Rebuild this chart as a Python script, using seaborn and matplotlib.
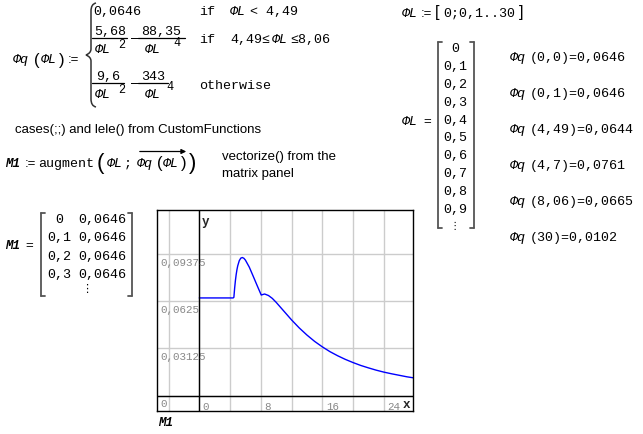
import numpy as np
import pandas as pd
import seaborn as sns
import matplotlib.pyplot as plt
from matplotlib.lines import Line2D
from matplotlib.patches import PathPatch, FancyArrowPatch
from matplotlib.path import Path

# valores (curva Φq(ΦL))
phi_L = [0, 1, 2, 3, 4, 4.4, 4.5, 4.6, 4.7, 4.8, 4.9, 5.0, 5.2, 5.4, 5.6, 5.8,
         6.0, 6.5, 7.0, 7.5, 8.0, 8.06, 8.1, 8.5, 9.0, 9.5, 10, 11, 12, 13, 14,
         15, 16, 17, 18, 19, 20, 21, 22, 23, 24, 25, 26, 27, 28, 29, 30]
phi_q = [0.0646, 0.0646, 0.0646, 0.0646, 0.0646, 0.0646, 0.0650, 0.0711, 0.0761,
         0.0801, 0.0833, 0.0858, 0.0892, 0.0909, 0.0913, 0.0908, 0.0896, 0.0850,
         0.0791, 0.0731, 0.0672, 0.0665, 0.0666, 0.0672, 0.0662, 0.0643, 0.0617,
         0.0559, 0.0501, 0.0448, 0.0401, 0.0359, 0.0323, 0.0291, 0.0264, 0.0240,
         0.0219, 0.0200, 0.0184, 0.0169, 0.0156, 0.0145, 0.0135, 0.0125, 0.0117,
         0.0109, 0.0102]

# textos mostrados na folha
vetor_L = ["0", "0,1", "0,2", "0,3", "0,4", "0,5", "0,6", "0,7", "0,8", "0,9"]
m1_col1 = ["0", "0,1", "0,2", "0,3"]
m1_col2 = ["0,0646", "0,0646", "0,0646", "0,0646"]
eval_x = ["0,0", "0,1", "4,49", "4,7", "8,06", "30"]
eval_y = ["0,0646", "0,0646", "0,0644", "0,0761", "0,0665", "0,0102"]
x_ticks = [0, 8, 16, 24]
x_tick_labels = ["0", "8", "16", "24"]
y_ticks = [0.03125, 0.0625, 0.09375]
y_tick_labels = ["0,03125", "0,0625", "0,09375"]

sns.set_theme(style="white")
plt.rcParams['font.family'] = ['Liberation Mono', 'DejaVu Sans Mono']

W, H = 643, 435
fig = plt.figure(figsize=(W / 100, H / 100), dpi=100)
fig.patch.set_facecolor('white')

MONO = 9.6
SANS = 'Liberation Sans'


def tx(x, y, s, **kw):
    kw.setdefault('va', 'center')
    kw.setdefault('ha', 'left')
    kw.setdefault('fontsize', MONO)
    kw.setdefault('color', 'black')
    fig.text(x / W, 1 - y / H, s, **kw)


def atrib(x, y, s=":="):
    # sinal de atribuição mais estreito
    tx(x, y, s, family=SANS, fontsize=9.5)


def ln(x1, y1, x2, y2, **kw):
    kw.setdefault('color', 'black')
    kw.setdefault('lw', 0.9)
    fig.add_artist(Line2D([x1 / W, x2 / W], [1 - y1 / H, 1 - y2 / H],
                          transform=fig.transFigure, **kw))


def colchetes(x1, x2, y1, y2):
    c = '#555555'
    ln(x1 + 4, y1, x1, y1, color=c, lw=1.3)
    ln(x1, y1, x1, y2, color=c, lw=1.3)
    ln(x1, y2, x1 + 4, y2, color=c, lw=1.3)
    ln(x2 - 4, y1, x2, y1, color=c, lw=1.3)
    ln(x2, y1, x2, y2, color=c, lw=1.3)
    ln(x2, y2, x2 - 4, y2, color=c, lw=1.3)


# definição de Φq com cases
tx(13, 60, "Φq", style='italic')
tx(34, 60, "(", fontsize=12, family=SANS)
tx(41, 60, "ΦL", style='italic')
tx(59, 60, ")", fontsize=12, family=SANS)
atrib(68, 60)

pts = [(96, 4), (91, 5), (91, 12), (91, 50), (91, 54), (86, 56),
       (91, 58), (91, 62), (91, 100), (91, 107), (96, 108)]
codes = [Path.MOVETO, Path.CURVE3, Path.CURVE3, Path.LINETO, Path.CURVE3, Path.CURVE3,
         Path.CURVE3, Path.CURVE3, Path.LINETO, Path.CURVE3, Path.CURVE3]
verts = [(x / W, 1 - y / H) for x, y in pts]
fig.add_artist(PathPatch(Path(verts, codes), transform=fig.transFigure,
                         fill=False, lw=1.1, edgecolor='#333333'))

tx(93, 12, "0,0646")
tx(199, 12, "if")
tx(230, 12, "ΦL", style='italic')
tx(250, 12, "< 4,49")

# linha 2
tx(110, 32, "5,68", ha='center')
ln(92, 38.5, 127, 38.5)
tx(95, 50, "ΦL", style='italic')
tx(118, 45, "2", fontsize=8.5)
tx(131, 38.5, "–", family=SANS, fontsize=10)
tx(161, 32, "88,35", ha='center')
ln(138, 38.5, 185, 38.5)
tx(145, 50, "ΦL", style='italic')
tx(173, 43, "4", fontsize=8.5)
tx(199, 40, "if")
tx(230, 40, "4,49≤", family=['Liberation Mono', 'DejaVu Sans Mono'])
tx(272, 40, "ΦL", style='italic')
tx(290, 40, "≤8,06", family=['Liberation Mono', 'DejaVu Sans Mono'])

# linha 3
tx(108, 77, "9,6", ha='center')
ln(92, 83.5, 124, 83.5)
tx(95, 95.5, "ΦL", style='italic')
tx(118, 90, "2", fontsize=8.5)
tx(131, 83.5, "–", family=SANS, fontsize=10)
tx(153, 77, "343", ha='center')
ln(138, 83.5, 168, 83.5)
tx(145, 95.5, "ΦL", style='italic')
tx(166, 87, "4", fontsize=8.5)
tx(199, 86, "otherwise")

tx(15, 130, "cases(;;) and lele() from CustomFunctions", family=SANS, fontsize=9.5)

# M1 := augment(...)
tx(5, 164, "M1", style='italic', weight='bold', fontsize=9)
atrib(25, 164)
tx(38, 164, "augment")
tx(97, 163, "(", fontsize=16, family=SANS)
tx(107, 164, "ΦL", style='italic')
tx(124, 164, ";")
tx(137, 164, "Φq", style='italic')
tx(157, 164, "(", fontsize=12, family=SANS)
tx(163, 164, "ΦL", style='italic')
tx(181, 164, ")", fontsize=12, family=SANS)
tx(189, 163, ")", fontsize=16, family=SANS)
fig.add_artist(FancyArrowPatch((137 / W, 1 - 152.5 / H), (189 / W, 1 - 152.5 / H),
                               transform=fig.transFigure, arrowstyle='-|>',
                               mutation_scale=7, lw=0.9, color='black'))
tx(222, 157, "vectorize() from the", family=SANS, fontsize=9.5)
tx(222, 174, "matrix panel", family=SANS, fontsize=9.5)

# matriz M1
tx(5, 246.5, "M1", style='italic', weight='bold', fontsize=9)
atrib(25, 246.5, "=")
colchetes(40.5, 131.5, 214, 297)
for i in range(len(m1_col1)):
    y = 220 + 18.3 * i
    tx(59, y, m1_col1[i], ha='center')
    tx(78, y, m1_col2[i])
tx(87, 289, "⋮", ha='center', family='DejaVu Sans', fontsize=8)

# vetor ΦL
tx(402, 14, "ΦL", style='italic')
atrib(421, 14)
tx(435, 13, "[", family=SANS, fontsize=12)
tx(443, 14, "0;0,1..30")
tx(519, 13, "]", family=SANS, fontsize=12)

tx(402, 122, "ΦL", style='italic')
atrib(423, 122, "=")
colchetes(437.5, 473.5, 43, 229)
for i, v in enumerate(vetor_L):
    tx(455, 49 + 17.9 * i, v, ha='center')
tx(455, 226, "⋮", ha='center', family='DejaVu Sans', fontsize=7.5)

# avaliações
for i in range(len(eval_x)):
    y = 58.5 + 36 * i
    tx(510, y, "Φq", style='italic')
    tx(530, y, "(" + eval_x[i] + ")=" + eval_y[i])

# gráfico
ax = fig.add_axes([157 / W, 1 - 412 / H, 256 / W, 201 / H])
df = pd.DataFrame({'ΦL': phi_L, 'Φq': phi_q})
sns.lineplot(data=df, x='ΦL', y='Φq', ax=ax, color='#0000ff', lw=1,
             estimator=None, sort=False)
ax.set_xlim(-5.5, 27.8)
ax.set_ylim(-0.0101, 0.1227)
ax.set_xticks(np.arange(-4, 28, 4))
ax.set_yticks([0] + y_ticks)
ax.set_xticklabels([])
ax.set_yticklabels([])
ax.tick_params(length=0)
ax.grid(True, color='#cccccc', lw=1)
ax.set_axisbelow(True)
ax.axhline(0, color='black', lw=1)
ax.axvline(0, color='black', lw=1)
ax.set_xlabel('')
ax.set_ylabel('')
for s in ax.spines.values():
    s.set_color('black')
    s.set_linewidth(1)

grey = '#888888'
for v, s in zip([0] + y_ticks, ["0"] + y_tick_labels):
    ax.annotate(s, xy=(-5.5, v), xytext=(2.5, -2), textcoords='offset points',
                va='top', ha='left', fontsize=7.8, color=grey)
for v, s in zip(x_ticks, x_tick_labels):
    ax.annotate(s, xy=(v, 0), xytext=(2.5, -4), textcoords='offset points',
                va='top', ha='left', fontsize=7.8, color=grey)
ax.text(27.0, -0.0055, "x", fontsize=9, weight='bold', ha='center', va='center')
ax.text(0.75, 0.1156, "y", fontsize=9, weight='bold', ha='center', va='center')

tx(158, 423.5, "M1", style='italic', weight='bold', fontsize=9)

fig.savefig('out.png', dpi=100)
